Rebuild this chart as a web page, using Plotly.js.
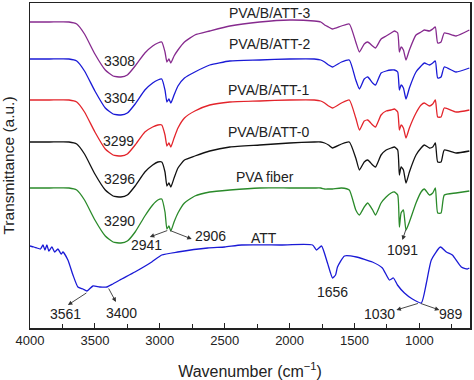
<!DOCTYPE html>
<html>
<head>
<meta charset="utf-8">
<script src="https://cdn.plot.ly/plotly-3.0.1.min.js"></script>
<style>html,body{margin:0;padding:0;background:#fff;}#chart{width:474px;height:380px;}</style>
</head>
<body>
<div id="chart"></div>
<script>
// Wavenumber grid (cm^-1) shared by the PVA-based spectra
const wnPVA = [4000,3850,3700,3640,3580,3500,3420,3360,3300,3250,3190,3115,3055,3015,2985,2960,2945,2930,2915,2890,2860,2810,2730,2615,2460,2230,2000,1810,1760,1730,1700,1670,1600,1540,1490,1462,1425,1398,1360,1338,1295,1256,1218,1192,1167,1154,1141,1123,1103,1077,1026,987,962,923,897,877,859,833,808,718,615];

// Transmittance (a.u., stacked with offsets as in the figure)
const pvaFiber = [140,140,140,138,128,108,92,86,85,87,96,112,123,128,129,116,99,102,97,106,115,125,132,136,138,140,140,140,140,139,139,139,140,138,118,113,121,125,118,113,125,131,135,136,133,101,115,118,98,106,125,136,139,133,135,140,115,115,133,135,137];
const att0 = [186,186,186,184,174,154,138,132,131,133,142,156,163,166,166,156,142,145,141,150,160,168,172,177,181,183,185,186,186,185,183,180,184,186,170,158,166,168,163,161,173,178,180,181,178,153,161,158,145,156,173,180,183,180,181,185,166,166,178,175,177];
const att1 = [228,228,228,226,216,196,179,173,172,174,183,196,201,203,203,193,182,185,181,190,200,210,217,223,226,227,228,228,227,225,222,220,225,228,210,198,207,208,203,201,213,217,218,219,216,198,203,200,190,200,215,223,225,222,224,228,211,211,220,216,218];
const att2 = [269,269,269,267,257,237,220,214,213,215,224,238,245,248,249,238,226,229,225,233,242,250,256,263,267,268,269,269,268,266,263,261,266,268,248,239,249,251,245,243,255,257,258,258,256,238,243,240,229,240,256,262,265,263,265,267,250,251,261,256,260];
const att3 = [306,306,306,304,294,274,258,252,251,253,262,275,282,285,286,276,266,269,265,272,278,286,293,297,302,306,308,307,306,303,301,299,302,304,286,276,284,286,282,280,289,292,295,297,295,276,281,278,268,278,293,296,298,297,299,301,285,286,295,292,298];

// Attapulgite (ATT) spectrum
const wnATT = [4000,3970,3946,3920,3900,3885,3870,3855,3831,3810,3785,3760,3746,3708,3669,3631,3592,3561,3515,3462,3408,3362,3308,3192,3062,2985,2862,2631,2500,2369,2077,1823,1792,1754,1708,1669,1646,1631,1577,1485,1362,1285,1231,1200,1169,1115,1054,985,946,908,838,792,746,677,631,615];
const attClay = [82,81,80,79,83,78,83,77,81,76,79,74,76,68,53,41,39,37,42,41,41,44,48,56,66,73,76,80,81,83,83,83,78,82,65,50,53,61,72,71,66,60,48,50,43,35,29,25,45,68,81,76,73,61,59,60];

const seriesNames = ['PVA/B/ATT-3','PVA/B/ATT-2','PVA/B/ATT-1','PVA/B/ATT-0','PVA fiber','ATT'];
const seriesColors = ['#862a8e','#1a1ad6','#e3242b','#111111','#2a8a2a','#1a1ad6'];

// Text labels: [text, wavenumber, y]
const labels = [
  ['PVA/B/ATT-3', 2154, 315], ['PVA/B/ATT-2', 2154, 284], ['PVA/B/ATT-1', 2162, 238],
  ['PVA/B/ATT-0', 2162, 196], ['PVA fiber', 2192, 151], ['ATT', 2200, 90],
  ['3308', 3308, 267], ['3304', 3308, 230], ['3299', 3315, 187], ['3296', 3308, 149], ['3290', 3308, 107],
  ['2941', 3100, 83], ['2906', 2608, 92], ['3561', 3723, 14], ['3400', 3292, 15],
  ['1091', 1131, 78], ['1656', 1669, 36], ['1030', 1308, 14], ['989', 754, 14]
];
// Arrows: [headX, headY, tailX, tailY]
const arrows = [
  [3077, 91, 2931, 98], [2754, 89, 2931, 98],
  [3708, 23, 3554, 36], [3338, 26, 3400, 41],
  [1131, 88, 1100, 100],
  [1177, 18, 1000, 25], [846, 18, 1000, 25]
];

const ys = [att3, att2, att1, att0, pvaFiber, attClay];
const traces = ys.map((y, i) => ({
  x: i === 5 ? wnATT : wnPVA,
  y: y,
  name: seriesNames[i],
  type: 'scatter',
  mode: 'lines',
  line: {color: seriesColors[i], width: 1.3, shape: 'spline', smoothing: 0.5},
  hoverinfo: 'skip'
}));

const FONT = 'Liberation Sans, Arial, sans-serif';
const annotations = labels.map(l => ({
  x: l[1], y: l[2], xref: 'x', yref: 'y', text: l[0], showarrow: false,
  font: {family: FONT, size: 14, color: '#222'}
})).concat(arrows.map(a => ({
  x: a[0], y: a[1], ax: a[2], ay: a[3], xref: 'x', yref: 'y', axref: 'x', ayref: 'y',
  text: '', showarrow: true, arrowhead: 2, arrowsize: 1, arrowwidth: 0.9, arrowcolor: '#333'
})));

const layout = {
  width: 474, height: 380,
  margin: {l: 30, r: 4, t: 3, b: 52, autoexpand: false},
  paper_bgcolor: '#fff', plot_bgcolor: '#fff',
  showlegend: false,
  font: {family: FONT, color: '#222'},
  xaxis: {
    range: [4000, 610], dtick: 500, tick0: 0, automargin: false,
    ticks: 'inside', ticklen: 5, tickwidth: 1, tickcolor: '#222',
    minor: {dtick: 250, ticks: 'inside', ticklen: 4, tickcolor: '#222'},
    showline: true, linewidth: 1.5, linecolor: '#222', mirror: true,
    showgrid: false, zeroline: false,
    tickfont: {family: FONT, size: 13, color: '#222'},
    title: {text: 'Wavenumber (cm<sup>−1</sup>)', font: {family: FONT, size: 16, color: '#222'}}
  },
  yaxis: {
    range: [0, 325], showticklabels: false, ticks: '', automargin: false,
    showline: true, linewidth: 1.5, linecolor: '#222', mirror: true,
    showgrid: false, zeroline: false,
    title: {text: 'Transmittance (a.u.)', font: {family: FONT, size: 15.5, color: '#222'}}
  },
  annotations: annotations
};

Plotly.newPlot('chart', traces, layout, {displayModeBar: false, staticPlot: true});
</script>
</body>
</html>
